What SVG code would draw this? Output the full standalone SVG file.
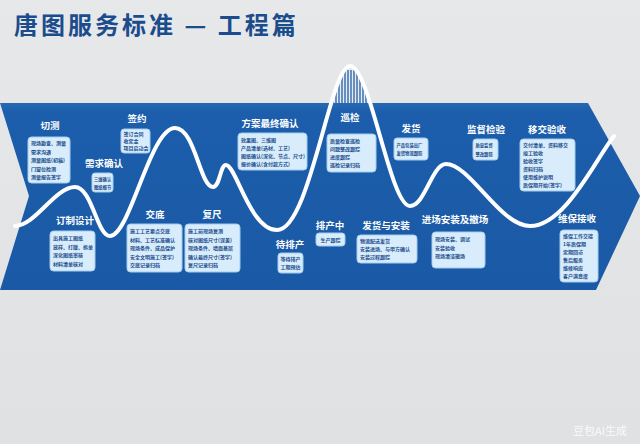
<svg xmlns="http://www.w3.org/2000/svg" width="640" height="444" viewBox="0 0 640 444">
<defs>
<linearGradient id="bg" x1="0" y1="0" x2="0" y2="1">
<stop offset="0" stop-color="#e6e8ea"/>
<stop offset="1" stop-color="#dfe1e2"/>
</linearGradient>
<linearGradient id="band" x1="0" y1="0" x2="0" y2="1">
<stop offset="0" stop-color="#2768b4"/>
<stop offset="0.05" stop-color="#1c5eac"/>
<stop offset="1" stop-color="#1a59a5"/>
</linearGradient>
<clipPath id="peakClip">
<path d="M277,230 C310,230 330,66 350,66 C370,66 390,206 410,206 Z"/>
</clipPath>
<style>
.title{font-family:"Noto Sans CJK SC","Noto Sans",sans-serif;font-weight:700;font-size:24px;fill:#1b4c8c;letter-spacing:3px}
.lbl{font-family:"Noto Sans CJK SC","Noto Sans",sans-serif;font-weight:700;font-size:9.5px;fill:#ffffff;text-anchor:middle}
.box{fill:#d8ecfb;stroke:#9fcdf0;stroke-width:1}
.t{font-family:"Noto Sans CJK SC","Noto Sans",sans-serif;font-size:5px;font-weight:700;fill:#1b4c8c}
.s{font-size:4.3px}
.wm{font-family:"Noto Sans CJK SC","Noto Sans",sans-serif;font-size:11px;fill:#ffffff;fill-opacity:0.85}
</style>
</defs>
<rect x="0" y="0" width="640" height="444" fill="url(#bg)"/>
<text class="title" x="14" y="34">唐图服务标准 — 工程篇</text>

<polygon points="0,103 588,103 640,196 596,290 0,290 29,196" fill="url(#band)"/>

<g id="peak-hatch" clip-path="url(#peakClip)">
<rect x="325" y="60" width="50" height="43" fill="#e8eaec"/>
<g stroke="#1d5fae" stroke-width="1.3">
<path d="M333,70V103M336,70V103M339,70V103M342,70V103M345,70V103M348,70V103M351,70V103M354,70V103M357,70V103M360,70V103M363,70V103M366,70V103M369,70V103"/>
</g>
</g>

<g id="connectors">
<path d="M15,226 C35,226 55,187 75,187 C92,187 97,236 110,236 C130,236 150,128 175,128 C195,128 200,187 213,187 C220,187 220,165 226,165 C236,165 250,230 277,230 C310,230 330,66 350,66 C370,66 390,206 410,206 C425,206 432,164 446,164 C470,164 500,226 530,226 C565,226 595,160 614,136" fill="none" stroke="#ffffff" stroke-width="4" stroke-linecap="round"/>
</g>

<g id="n-cece">
<text class="lbl" x="50" y="128.5">切测</text>
<rect class="box" x="28" y="137" width="42" height="46" rx="3.5"/>
<text class="t" x="31" y="145">现场勘查、测量</text>
<text class="t" x="31" y="153.5">需求沟通</text>
<text class="t" x="31" y="162">测量图纸(初稿)</text>
<text class="t" x="31" y="170.5">门窗位检测</text>
<text class="t" x="31" y="179">测量报告签字</text>
</g>

<g id="n-xuqiu">
<text class="lbl" x="104" y="166.5">需求确认</text>
<rect class="box" x="92" y="173" width="21" height="19" rx="3"/>
<text class="t s" x="94" y="181">三维确认</text>
<text class="t s" x="94" y="189">图纸细节</text>
</g>

<g id="n-qianyue">
<text class="lbl" x="137" y="121.5">签约</text>
<rect class="box" x="121" y="129" width="29" height="24" rx="3"/>
<text class="t" x="123.5" y="136">签订合同</text>
<text class="t" x="123.5" y="143">收定金</text>
<text class="t" x="123.5" y="150">项目启动会</text>
</g>

<g id="n-dingzhi">
<text class="lbl" x="75" y="223.5">订制设计</text>
<rect class="box" x="50" y="231" width="45" height="40" rx="3.5"/>
<text class="t" x="53" y="240">出具施工图纸</text>
<text class="t" x="53" y="248.5">放样、打版、拆单</text>
<text class="t" x="53" y="257">深化图纸审核</text>
<text class="t" x="53" y="265.5">材料清单核对</text>
</g>

<g id="n-jiaodi">
<text class="lbl" x="155" y="217.5">交底</text>
<rect class="box" x="127" y="224" width="55" height="48" rx="3.5"/>
<text class="t" x="130" y="233">施工工艺要点交底</text>
<text class="t" x="130" y="241.5">材料、工艺标准确认</text>
<text class="t" x="130" y="250">现场条件、成品保护</text>
<text class="t" x="130" y="258.5">安全文明施工(签字)</text>
<text class="t" x="130" y="267">交底记录归档</text>
</g>

<g id="n-fuchi">
<text class="lbl" x="212" y="217.5">复尺</text>
<rect class="box" x="185" y="224" width="55" height="48" rx="3.5"/>
<text class="t" x="188" y="233">施工前现场复测</text>
<text class="t" x="188" y="241.5">核对图纸尺寸(误差)</text>
<text class="t" x="188" y="250">现场条件、墙面基层</text>
<text class="t" x="188" y="258.5">确认最终尺寸(签字)</text>
<text class="t" x="188" y="267">复尺记录归档</text>
</g>

<g id="n-fangan">
<text class="lbl" x="270" y="126.5">方案最终确认</text>
<rect class="box" x="238" y="133" width="69" height="37" rx="3.5"/>
<text class="t" x="241" y="142">效果图、三维图</text>
<text class="t" x="241" y="150">产品清单(选材、工艺)</text>
<text class="t" x="241" y="158">图纸确认(深化、节点、尺寸)</text>
<text class="t" x="241" y="166">报价确认(含付款方式)</text>
</g>

<g id="n-daipai">
<text class="lbl" x="290" y="247.5">待排产</text>
<rect class="box" x="278" y="253" width="25" height="20" rx="3"/>
<text class="t" x="280.5" y="261">等待排产</text>
<text class="t" x="280.5" y="269">工期预估</text>
</g>

<g id="n-paichan">
<text class="lbl" x="330" y="228.5">排产中</text>
<rect class="box" x="316" y="233" width="29" height="13" rx="3"/>
<text class="t" x="320.5" y="241.5">生产跟踪</text>
</g>

<g id="n-fahuo-anzhuang">
<text class="lbl" x="386" y="228.5">发货与安装</text>
<rect class="box" x="357" y="235" width="60" height="28" rx="3.5"/>
<text class="t" x="360" y="243">物流配送发货</text>
<text class="t" x="360" y="251">安装进场、与甲方确认</text>
<text class="t" x="360" y="259">安装过程跟踪</text>
</g>

<g id="n-xunjian">
<text class="lbl" x="350" y="120.5">巡检</text>
<rect class="box" x="327" y="134" width="49" height="38" rx="3.5"/>
<text class="t" x="330" y="142.5">质量检查巡检</text>
<text class="t" x="330" y="150.5">问题整改跟踪</text>
<text class="t" x="330" y="158.5">进度跟踪</text>
<text class="t" x="330" y="166.5">巡检记录归档</text>
</g>

<g id="n-fahuo">
<text class="lbl" x="411" y="131.5">发货</text>
<rect class="box" x="394" y="138" width="34" height="22" rx="3"/>
<text class="t s" x="396.5" y="146.5">产品包装出厂</text>
<text class="t s" x="396.5" y="155">发货物流跟踪</text>
</g>

<g id="n-jinchang">
<text class="lbl" x="455" y="222.5">进场安装及撤场</text>
<rect class="box" x="432" y="232" width="53" height="36" rx="3.5"/>
<text class="t" x="435" y="241">现场安装、调试</text>
<text class="t" x="435" y="249.5">安装验收</text>
<text class="t" x="435" y="258">现场清洁撤场</text>
</g>

<g id="n-jiandu">
<text class="lbl" x="486" y="132.5">监督检验</text>
<rect class="box" x="473" y="139" width="25" height="21" rx="3"/>
<text class="t s" x="475.5" y="147">质量监督</text>
<text class="t s" x="475.5" y="155.5">整改跟踪</text>
</g>

<g id="n-yijiao">
<text class="lbl" x="547" y="132.5">移交验收</text>
<rect class="box" x="520" y="139" width="55" height="52" rx="3.5"/>
<text class="t" x="523" y="147">交付清单、资料移交</text>
<text class="t" x="523" y="155">竣工验收</text>
<text class="t" x="523" y="163">验收签字</text>
<text class="t" x="523" y="171">资料归档</text>
<text class="t" x="523" y="179">使用维护说明</text>
<text class="t" x="523" y="187">质保期开始(签字)</text>
</g>

<g id="n-weibao">
<text class="lbl" x="577" y="221.5">维保接收</text>
<rect class="box" x="560" y="230" width="38" height="52" rx="3.5"/>
<text class="t" x="563" y="238">维保工作交接</text>
<text class="t" x="563" y="246">1年质保期</text>
<text class="t" x="563" y="254">定期回访</text>
<text class="t" x="563" y="262">售后服务</text>
<text class="t" x="563" y="270">维修响应</text>
<text class="t" x="563" y="278">客户满意度</text>
</g>

<text class="wm" x="573" y="435">豆包AI生成</text>
</svg>
